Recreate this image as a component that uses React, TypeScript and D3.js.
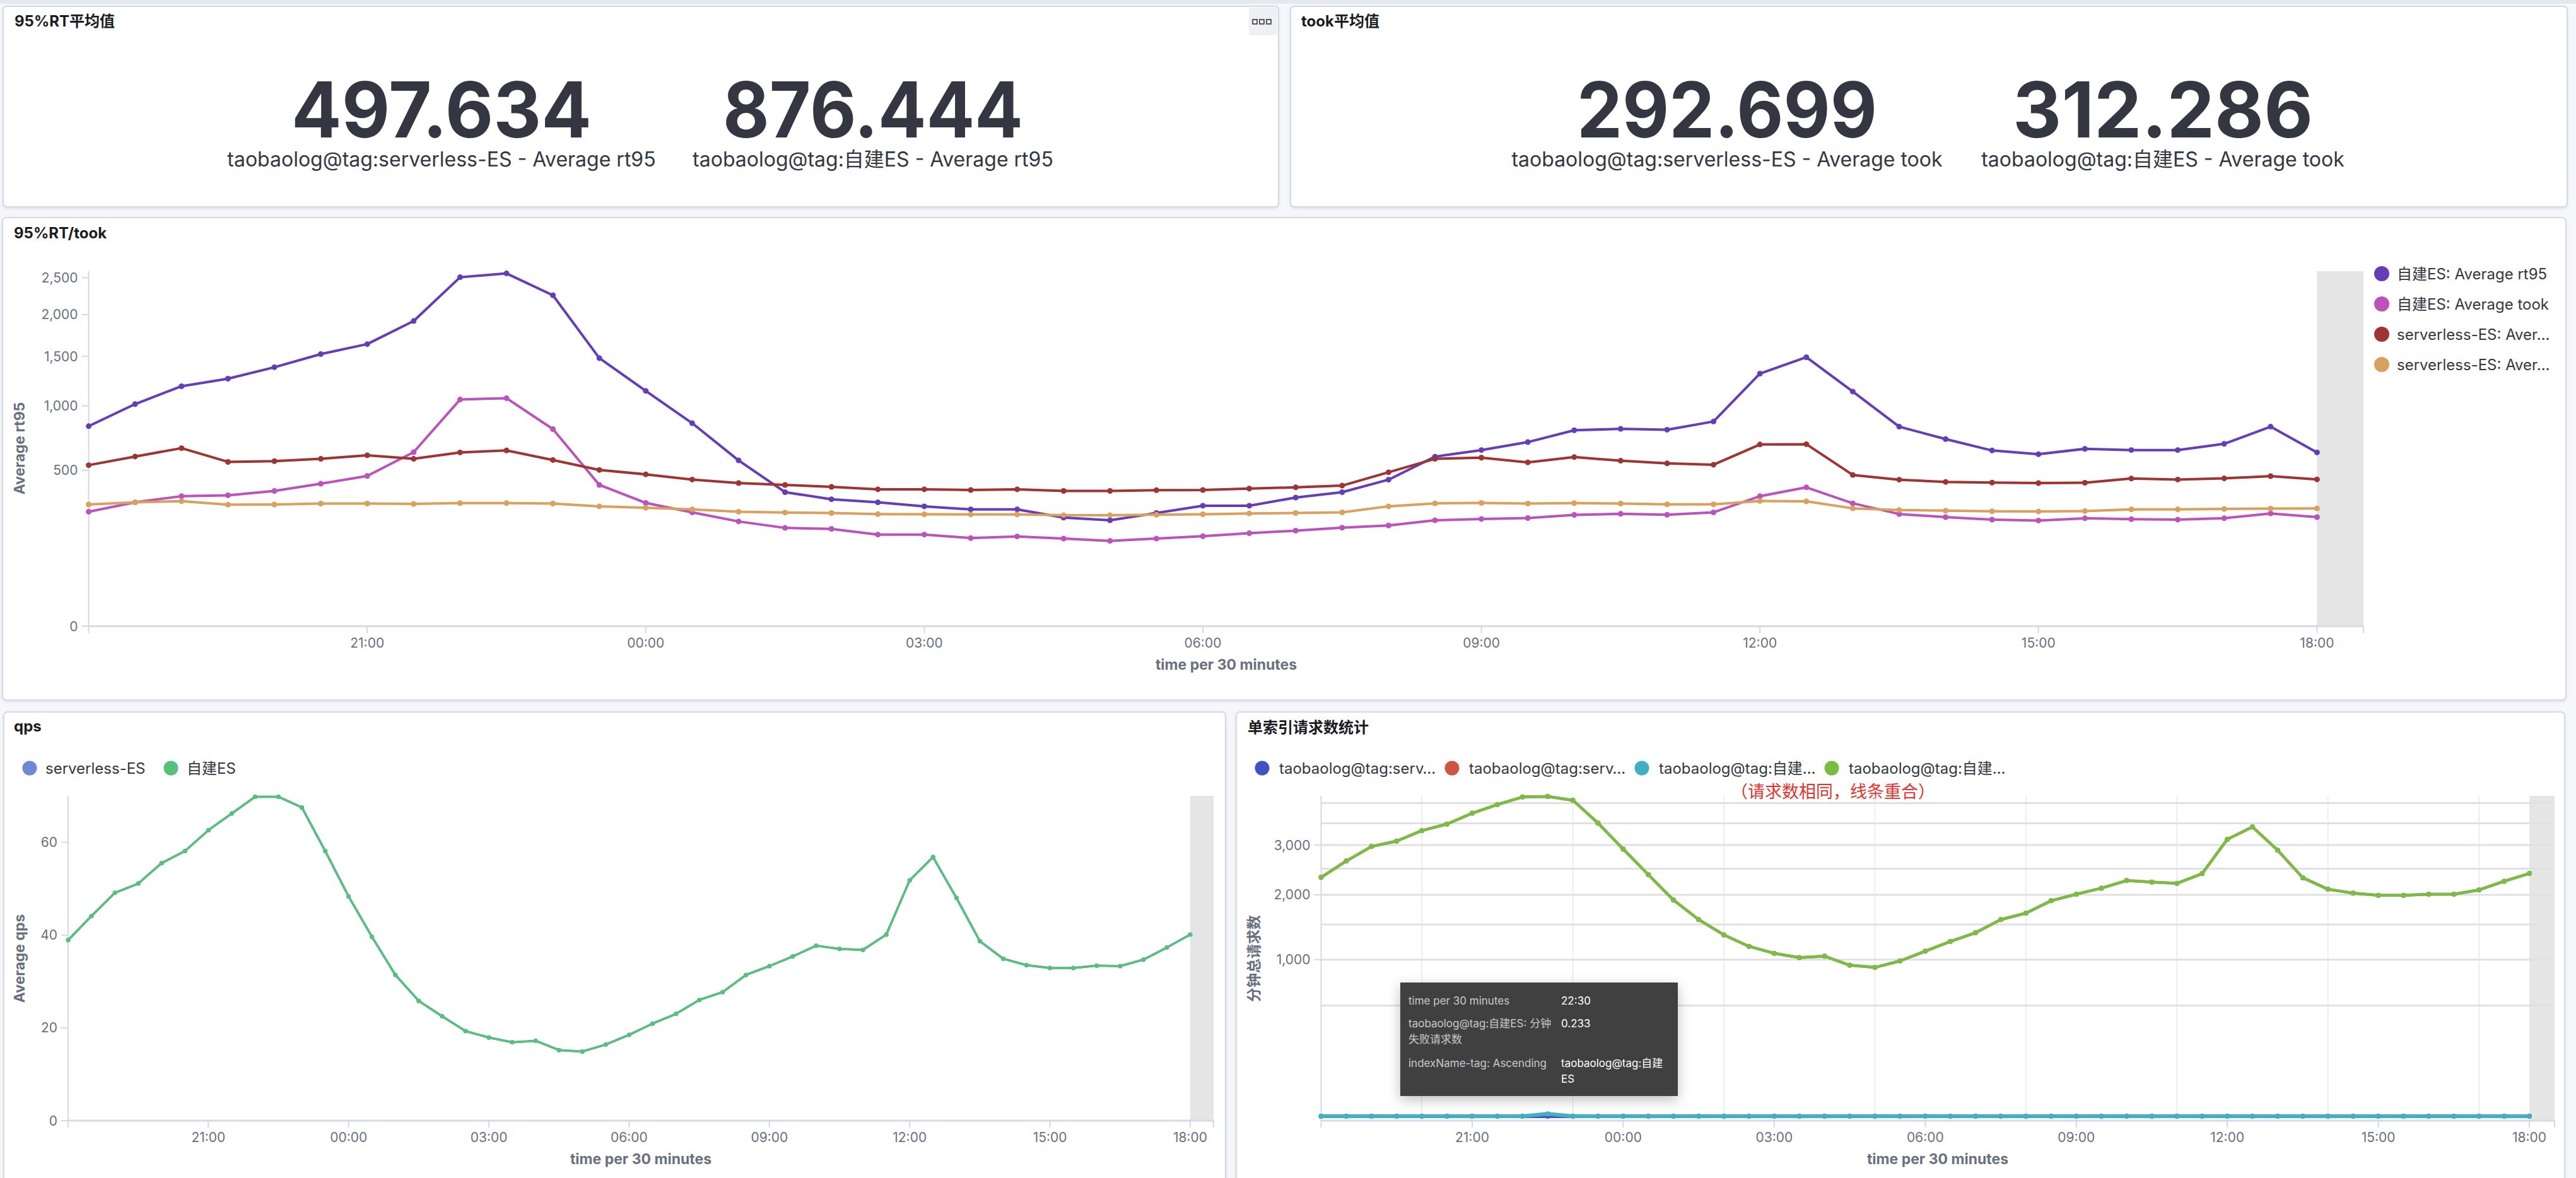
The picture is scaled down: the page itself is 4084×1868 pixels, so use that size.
import React from 'react';
import * as d3 from 'd3';

const FONT = "Inter, 'Noto Sans CJK SC', 'Noto Sans', sans-serif";

// ---------- categories ----------
const times = [
  '18:00', '18:30', '19:00', '19:30', '20:00', '20:30', '21:00', '21:30', '22:00', '22:30',
  '23:00', '23:30', '00:00', '00:30', '01:00', '01:30', '02:00', '02:30', '03:00', '03:30',
  '04:00', '04:30', '05:00', '05:30', '06:00', '06:30', '07:00', '07:30', '08:00', '08:30',
  '09:00', '09:30', '10:00', '10:30', '11:00', '11:30', '12:00', '12:30', '13:00', '13:30',
  '14:00', '14:30', '15:00', '15:30', '16:00', '16:30', '17:00', '17:30', '18:00',
];
const xTickLabels = ['21:00', '00:00', '03:00', '06:00', '09:00', '12:00', '15:00', '18:00'];
const reqGridTimes = ['20:00', '23:00', '02:00', '05:00', '08:00', '11:00', '14:00', '17:00'];

// ---------- metric panels ----------
const rt95Metrics = [
  { value: '497.634', label: 'taobaolog@tag:serverless-ES - Average rt95' },
  { value: '876.444', label: 'taobaolog@tag:自建ES - Average rt95' },
];
const tookMetrics = [
  { value: '292.699', label: 'taobaolog@tag:serverless-ES - Average took' },
  { value: '312.286', label: 'taobaolog@tag:自建ES - Average took' },
];

// ---------- 95%RT/took ----------
const rt95SelfBuilt = [824, 1016, 1186, 1262, 1381, 1525, 1639, 1918, 2508, 2563, 2255, 1480, 1140, 849, 566, 370, 332, 316, 296, 281, 281, 243, 231, 264, 299, 299, 341, 370, 442, 592, 639, 698, 791, 802, 795, 863, 1314, 1490, 1134, 820, 721, 636, 609, 648, 639, 639, 685, 820, 622];
const tookSelfBuilt = [270, 316, 348, 353, 377, 418, 465, 624, 1058, 1071, 800, 411, 313, 267, 226, 199, 195, 173, 173, 160, 166, 158, 150, 158, 167, 178, 188, 200, 209, 231, 237, 241, 255, 260, 256, 267, 348, 397, 311, 259, 245, 234, 230, 240, 236, 234, 240, 262, 245];
const rt95Serverless = [534, 593, 653, 556, 561, 577, 602, 577, 622, 636, 569, 503, 475, 443, 422, 411, 400, 386, 386, 382, 386, 377, 377, 381, 382, 390, 397, 407, 488, 577, 585, 553, 589, 564, 546, 537, 680, 682, 471, 442, 429, 425, 422, 424, 449, 443, 450, 464, 444];
const tookServerless = [305, 316, 322, 304, 305, 310, 310, 308, 312, 312, 310, 296, 289, 281, 270, 266, 264, 259, 258, 257, 257, 254, 254, 256, 258, 262, 264, 267, 296, 311, 313, 310, 312, 310, 306, 306, 323, 321, 286, 278, 275, 272, 271, 273, 281, 281, 283, 285, 286];
const rtNames = ['自建ES: Average rt95', '自建ES: Average took', 'serverless-ES: Aver…', 'serverless-ES: Aver…'];
const rtColors = ['#663db8', '#bc52bc', '#9e3533', '#daa05d'];
const rtTicks = [0, 500, 1000, 1500, 2000, 2500];
const rtMax = 2596;

// ---------- qps ----------
const qpsSelfBuilt = [38.9, 44.1, 49.1, 51.1, 55.5, 58.1, 62.6, 66.2, 69.8, 69.8, 67.5, 58.1, 48.3, 39.6, 31.4, 25.8, 22.5, 19.3, 17.9, 16.9, 17.2, 15.2, 14.9, 16.4, 18.5, 20.9, 23.0, 26.0, 27.7, 31.4, 33.3, 35.4, 37.7, 37.0, 36.8, 40.1, 51.8, 56.8, 48.0, 38.7, 34.9, 33.5, 32.9, 32.9, 33.4, 33.3, 34.7, 37.3, 40.1];
const qpsServerless = [38.9, 44.1, 49.1, 51.1, 55.5, 58.1, 62.6, 66.2, 69.8, 69.8, 67.5, 58.1, 48.3, 39.6, 31.4, 25.8, 22.5, 19.3, 17.9, 16.9, 17.2, 15.2, 14.9, 16.4, 18.5, 20.9, 23.0, 26.0, 27.7, 31.4, 33.3, 35.4, 37.7, 37.0, 36.8, 40.1, 51.8, 56.8, 48.0, 38.7, 34.9, 33.5, 32.9, 32.9, 33.4, 33.3, 34.7, 37.3, 40.1];
const qpsNames = ['serverless-ES', '自建ES'];
const qpsColors = ['#6f87d8', '#57c17b'];
const qpsTicks = [0, 20, 40, 60];
const qpsMax = 70;

// ---------- 单索引请求数统计 ----------
const reqSelfBuiltTotal = [2328, 2657, 2968, 3089, 3328, 3482, 3745, 3963, 4158, 4170, 4075, 3507, 2912, 2380, 1906, 1577, 1342, 1177, 1083, 1026, 1045, 930, 903, 984, 1111, 1247, 1374, 1577, 1683, 1894, 2011, 2122, 2266, 2236, 2212, 2401, 3129, 3414, 2888, 2320, 2102, 2030, 1990, 1990, 2011, 2011, 2089, 2253, 2405];
const reqServerlessTotal = [2328, 2657, 2968, 3089, 3328, 3482, 3745, 3963, 4158, 4170, 4075, 3507, 2912, 2380, 1906, 1577, 1342, 1177, 1083, 1026, 1045, 930, 903, 984, 1111, 1247, 1374, 1577, 1683, 1894, 2011, 2122, 2266, 2236, 2212, 2401, 3129, 3414, 2888, 2320, 2102, 2030, 1990, 1990, 2011, 2011, 2089, 2253, 2405];
const reqServerlessFailed = [0, 0, 0, 0, 0, 0, 0, 0, 0, 0, 0, 0, 0, 0, 0, 0, 0, 0, 0, 0, 0, 0, 0, 0, 0, 0, 0, 0, 0, 0, 0, 0, 0, 0, 0, 0, 0, 0, 0, 0, 0, 0, 0, 0, 0, 0, 0, 0, 0];
const reqSelfBuiltFailed = [0, 0, 0, 0, 0, 0, 0, 0, 0, 0.233, 0, 0, 0, 0, 0, 0, 0, 0, 0, 0, 0, 0, 0, 0, 0, 0, 0, 0, 0, 0, 0, 0, 0, 0, 0, 0, 0, 0, 0, 0, 0, 0, 0, 0, 0, 0, 0, 0, 0];
const reqNames = ['taobaolog@tag:serv…', 'taobaolog@tag:serv…', 'taobaolog@tag:自建…', 'taobaolog@tag:自建…'];
const reqColors = ['#4152c5', '#cc5642', '#41afc4', '#79bd44'];
const reqGrid = [500, 1000, 1500, 2000, 2500, 3000, 3500, 4000];
const reqTicks = [1000, 2000, 3000];
const reqMax = 4188;
const tooltipRows = [
  { label: ['time per 30 minutes'], value: ['22:30'] },
  { label: ['taobaolog@tag:自建ES: 分钟', '失败请求数'], value: ['0.233'] },
  { label: ['indexName-tag: Ascending'], value: ['taobaolog@tag:自建', 'ES'] },
];

const AXIS = '#d3dae6';
const TICK = '#69707d';
const TEXT = '#343741';
const fmt = d3.format(',');

function Panel({ x, y, w, h }: any) {
  return <rect x={x} y={y} width={w} height={h} rx={6} fill="#ffffff" stroke="#d3dae6" strokeWidth={2} filter="url(#pshadow)" />;
}

function Series({ data, x, y, color, width, r }: any) {
  const line = d3.line<number>().x((_, i) => x(i)).y((d) => y(d));
  return (
    <g>
      <path d={line(data) || ''} fill="none" stroke={color} strokeWidth={width} strokeLinejoin="round" strokeLinecap="round" />
      {data.map((d: number, i: number) => (
        <circle key={i} cx={x(i)} cy={y(d)} r={r} fill={color} />
      ))}
    </g>
  );
}

function XAxis({ x, y0, x0, x1, labelY, fs }: any) {
  return (
    <g>
      <line x1={x0} x2={x1} y1={y0} y2={y0} stroke={AXIS} strokeWidth={3} />
      {[x0, x1].map((p, i) => (
        <line key={'e' + i} x1={p} x2={p} y1={y0} y2={y0 + 11} stroke={AXIS} strokeWidth={2} />
      ))}
      {xTickLabels.map((t) => {
        const px = x(times.lastIndexOf(t));
        return (
          <g key={t}>
            <line x1={px} x2={px} y1={y0} y2={y0 + 11} stroke={AXIS} strokeWidth={2} />
            <text x={px} y={labelY} textAnchor="middle" dominantBaseline="central" fontSize={fs} fill={TICK}>{t}</text>
          </g>
        );
      })}
    </g>
  );
}

function YAxis({ y, ticks, x0, yTop, yBot, fs, labels = true }: any) {
  return (
    <g>
      <line x1={x0} x2={x0} y1={yTop} y2={yBot} stroke={AXIS} strokeWidth={2} />
      {ticks.map((t: number) => (
        <g key={t}>
          <line x1={x0 - 11} x2={x0} y1={y(t)} y2={y(t)} stroke={AXIS} strokeWidth={2} />
          {labels && (
            <text x={x0 - 17} y={y(t)} textAnchor="end" dominantBaseline="central" fontSize={fs} fill={TICK}>{fmt(t)}</text>
          )}
        </g>
      ))}
    </g>
  );
}

function Metric({ cx, value, label }: any) {
  return (
    <g>
      <text x={cx} y={218} textAnchor="middle" fontSize={122} fontWeight={700} fill={TEXT} textLength={476} lengthAdjust="spacingAndGlyphs">{value}</text>
      <text x={cx} y={264} textAnchor="middle" fontSize={32} fill={TEXT}>{label}</text>
    </g>
  );
}

export default function App() {
  // 95%RT/took
  const xRt = d3.scaleLinear().domain([0, 49]).range([140.6, 3747]);
  const yRt = d3.scaleSqrt().domain([0, rtMax]).range([993, 430]);
  const rtData = [rt95SelfBuilt, tookSelfBuilt, rt95Serverless, tookServerless];

  // qps
  const xQ = d3.scaleLinear().domain([0, 49]).range([108, 1924]);
  const yQ = d3.scaleLinear().domain([0, qpsMax]).range([1777, 1262]);

  // requests
  const xR = d3.scaleLinear().domain([0, 49]).range([2094.5, 4050]);
  const yR = d3.scaleSqrt().domain([0, reqMax]).range([1770, 1262]);
  const reqData = [reqServerlessFailed, reqServerlessTotal, reqSelfBuiltFailed, reqSelfBuiltTotal];

  return (
    <div style={{ position: 'absolute', left: 0, top: 0, width: 4084, height: 1868, overflow: 'hidden' }}>
      <svg width={4084} height={1868} style={{ display: 'block' }} fontFamily={FONT}>
        <defs>
          <filter id="pshadow" x="-5%" y="-5%" width="110%" height="110%">
            <feDropShadow dx={0} dy={2} stdDeviation={2} floodColor="#98a2b3" floodOpacity={0.25} />
          </filter>
          <filter id="tshadow" x="-20%" y="-20%" width="140%" height="150%">
            <feDropShadow dx={0} dy={6} stdDeviation={10} floodColor="#000" floodOpacity={0.25} />
          </filter>
        </defs>
        <rect x={0} y={0} width={4084} height={1868} fill="#f5f7fa" />
        <rect x={0} y={0} width={4084} height={6} fill="#e4e8ef" />

        {/* ---------- top metric panels ---------- */}
        <Panel x={5} y={10} w={2022} h={318} />
        <text x={23} y={42} fontSize={24} fontWeight={700} fill="#1a1c21">95%RT平均值</text>
        <rect x={1980} y={12} width={45} height={44} rx={4} fill="#eef0f3" />
        {[0, 1, 2].map((i) => (
          <rect key={i} x={1986 + i * 11} y={31} width={7} height={7} fill="none" stroke={TEXT} strokeWidth={1.6} />
        ))}
        <Metric cx={700} value={rt95Metrics[0].value} label={rt95Metrics[0].label} />
        <Metric cx={1384} value={rt95Metrics[1].value} label={rt95Metrics[1].label} />

        <Panel x={2046} y={10} w={2024} h={318} />
        <text x={2063} y={42} fontSize={24} fontWeight={700} fill="#1a1c21">took平均值</text>
        <Metric cx={2738} value={tookMetrics[0].value} label={tookMetrics[0].label} />
        <Metric cx={3429} value={tookMetrics[1].value} label={tookMetrics[1].label} />

        {/* ---------- 95%RT/took ---------- */}
        <Panel x={4} y={345} w={4064} h={765} />
        <text x={22} y={378} fontSize={24} fontWeight={700} fill="#1a1c21">95%RT/took</text>
        <rect x={xRt(48)} y={430} width={xRt(49) - xRt(48)} height={993 - 430} fill="#e5e5e5" />
        <YAxis y={yRt} ticks={rtTicks} x0={140.6} yTop={430} yBot={993} fs={21} />
        <XAxis x={xRt} y0={993} x0={140.6} x1={3747} labelY={1019} fs={21} />
        <text x={1944} y={1054} textAnchor="middle" dominantBaseline="central" fontSize={23} fontWeight={700} fill={TICK}>time per 30 minutes</text>
        <text transform="translate(31,711) rotate(-90)" textAnchor="middle" dominantBaseline="central" fontSize={23} fontWeight={700} fill={TICK}>Average rt95</text>
        {rtData.map((d, i) => (
          <Series key={i} data={d} x={xRt} y={yRt} color={rtColors[i]} width={4} r={4.5} />
        ))}
        {rtNames.map((n, i) => (
          <g key={i}>
            <circle cx={3776} cy={434 + i * 48} r={12} fill={rtColors[i]} />
            <text x={3800} y={434 + i * 48} dominantBaseline="central" fontSize={24} fill={TEXT}>{n}</text>
          </g>
        ))}

        {/* ---------- qps ---------- */}
        <Panel x={6} y={1129} w={1937} h={760} />
        <text x={22} y={1160} fontSize={24} fontWeight={700} fill="#1a1c21">qps</text>
        {qpsNames.map((n, i) => (
          <g key={i}>
            <circle cx={[47, 271][i]} cy={1218} r={11.5} fill={qpsColors[i]} />
            <text x={[72, 296][i]} y={1218} dominantBaseline="central" fontSize={24} fill={TEXT}>{n}</text>
          </g>
        ))}
        <rect x={xQ(48)} y={1262} width={xQ(49) - xQ(48)} height={1777 - 1262} fill="#e5e5e5" />
        <YAxis y={yQ} ticks={qpsTicks} x0={108} yTop={1262} yBot={1777} fs={21} />
        <XAxis x={xQ} y0={1777} x0={108} x1={1924} labelY={1803} fs={21} />
        <text x={1016} y={1838} textAnchor="middle" dominantBaseline="central" fontSize={23} fontWeight={700} fill={TICK}>time per 30 minutes</text>
        <text transform="translate(31,1520) rotate(-90)" textAnchor="middle" dominantBaseline="central" fontSize={23} fontWeight={700} fill={TICK}>Average qps</text>
        <Series data={qpsServerless} x={xQ} y={yQ} color={qpsColors[0]} width={3.5} r={3.5} />
        <Series data={qpsSelfBuilt} x={xQ} y={yQ} color={qpsColors[1]} width={3.5} r={3.5} />

        {/* ---------- 单索引请求数统计 ---------- */}
        <Panel x={1960} y={1129} w={2106} h={760} />
        <text x={1978} y={1162} fontSize={24} fontWeight={700} fill="#1a1c21">单索引请求数统计</text>
        {reqNames.map((n, i) => (
          <g key={i}>
            <circle cx={2001 + i * 301} cy={1218} r={11.5} fill={reqColors[i]} />
            <text x={2028 + i * 301} y={1218} dominantBaseline="central" fontSize={24} fill={TEXT}>{n}</text>
          </g>
        ))}
        <text x={2906} y={1265} textAnchor="middle" fontSize={27} fill="#e8302c">（请求数相同，线条重合）</text>
        <rect x={xR(48)} y={1262} width={xR(49) - xR(48)} height={1777 - 1262} fill="#e5e5e5" />
        {reqGridTimes.map((t) => {
          const px = xR(times.indexOf(t));
          return <line key={t} x1={px} x2={px} y1={1262} y2={1777} stroke="#e6e8ec" strokeWidth={1.5} />;
        })}
        {reqGrid.map((v) => (
          <line key={v} x1={2094.5} x2={4050} y1={yR(v)} y2={yR(v)} stroke="#dfe1e6" strokeWidth={3} />
        ))}
        <YAxis y={yR} ticks={reqTicks} x0={2094.5} yTop={1262} yBot={1777} fs={21} />
        <XAxis x={xR} y0={1777} x0={2094.5} x1={4050} labelY={1803} fs={21} />
        <text x={3072} y={1838} textAnchor="middle" dominantBaseline="central" fontSize={23} fontWeight={700} fill={TICK}>time per 30 minutes</text>
        <text transform="translate(1988,1520) rotate(-90)" textAnchor="middle" dominantBaseline="central" fontSize={23} fontWeight={700} fill={TICK}>分钟总请求数</text>
        {reqData.map((d, i) => (
          <Series key={i} data={d} x={xR} y={yR} color={reqColors[i]} width={i % 2 === 0 ? 6 : 4.5} r={4} />
        ))}

        {/* tooltip */}
        <g filter="url(#tshadow)">
          <rect x={2220} y={1558} width={440} height={180} fill="#404040" />
        </g>
        {tooltipRows.map((row, ri) => {
          const base = [1593, 1629, 1692][ri];
          return (
            <g key={ri} fontSize={17}>
              {row.label.map((l, li) => (
                <text key={'l' + li} x={2233} y={base + li * 25} fill="#c9c9c9">{l}</text>
              ))}
              {row.value.map((v, vi) => (
                <text key={'v' + vi} x={2475} y={base + vi * 25} fill="#ffffff">{v}</text>
              ))}
            </g>
          );
        })}
      </svg>
    </div>
  );
}
